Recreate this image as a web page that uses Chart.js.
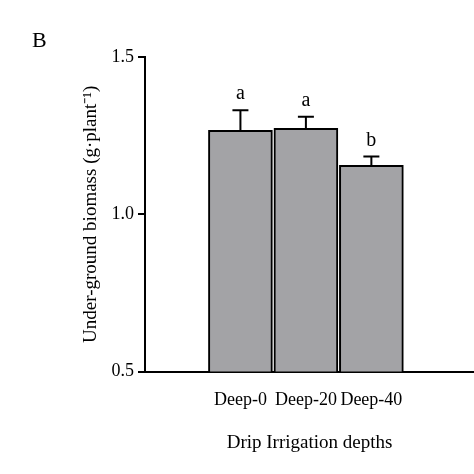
<!DOCTYPE html>
<html><head><meta charset="utf-8">
<script src="https://cdn.jsdelivr.net/npm/chart.js@4"></script>
<style>html,body{margin:0;background:#fff}#wrap{width:474px;height:474px}</style>
</head><body><div id="wrap"><canvas id="c"></canvas></div>
<script>
const categories = ['Deep-0', 'Deep-20', 'Deep-40'];
const means = [1.267, 1.273, 1.156];
const errors = [0.064, 0.037, 0.028];
const letters = ['a', 'a', 'b'];
const yTicks = [0.5, 1.0, 1.5];

const F = '"Liberation Serif", "Times New Roman", serif';

const extras = {
  id: 'extras',
  afterDatasetsDraw(chart) {
    const ctx = chart.ctx, x = chart.scales.x, y = chart.scales.y;
    ctx.save();
    ctx.strokeStyle = '#000'; ctx.lineWidth = 2;
    ctx.fillStyle = '#000';
    ctx.font = '20px ' + F; ctx.textAlign = 'center'; ctx.textBaseline = 'bottom';
    means.forEach((m, i) => {
      const px = x.getPixelForValue(i);
      const top = y.getPixelForValue(m + errors[i]);
      ctx.beginPath();
      ctx.moveTo(px, y.getPixelForValue(m)); ctx.lineTo(px, top);
      ctx.moveTo(px - 8, top); ctx.lineTo(px + 8, top);
      ctx.stroke();
      ctx.fillText(letters[i], px, top - 6);
    });
    ctx.font = '22px ' + F; ctx.textAlign = 'left'; ctx.textBaseline = 'top';
    ctx.fillText('B', 32, 30);
    ctx.restore();
  }
};

new Chart(document.getElementById('c'), {
  type: 'bar',
  data: {
    datasets: [{
      data: means.map((v, i) => ({ x: i, y: v })),
      backgroundColor: '#a3a3a6',
      borderColor: '#000',
      borderWidth: 2,
      borderSkipped: 'bottom',
      barThickness: 64
    }]
  },
  options: {
    responsive: true, maintainAspectRatio: false, animation: false,
    layout: { padding: { top: 57, right: 0, bottom: 0, left: 80 } },
    plugins: { legend: { display: false }, tooltip: { enabled: false } },
    scales: {
      x: {
        type: 'linear', min: -0.62, max: 2.73,
        afterBuildTicks: s => { s.ticks = categories.map((c, i) => ({ value: i })); },
        grid: { display: false, drawTicks: false },
        border: { color: '#000', width: 2 },
        ticks: { color: '#000', font: { family: F, size: 18 }, padding: 18,
                 callback: v => categories[v] },
        title: { display: true, text: 'Drip Irrigation depths', color: '#000',
                 font: { family: F, size: 19 }, padding: { top: 2, bottom: 20 } }
      },
      y: {
        min: 0.5, max: 1.5,
        afterBuildTicks: s => { s.ticks = yTicks.map(v => ({ value: v })); },
        afterFit: s => { s.width = 65; },
        grid: { display: true, drawOnChartArea: false, tickLength: 7, color: '#000', lineWidth: 2 },
        border: { color: '#000', width: 2 },
        ticks: { color: '#000', font: { family: F, size: 18 }, padding: 4,
                 callback: v => v.toFixed(1) },
        title: { display: true, text: 'Under-ground biomass (g·plant⁻¹)', color: '#000',
                 font: { family: F, size: 19 }, padding: { top: 0, bottom: 0 } }
      }
    }
  },
  plugins: [extras]
});
</script></body></html>
